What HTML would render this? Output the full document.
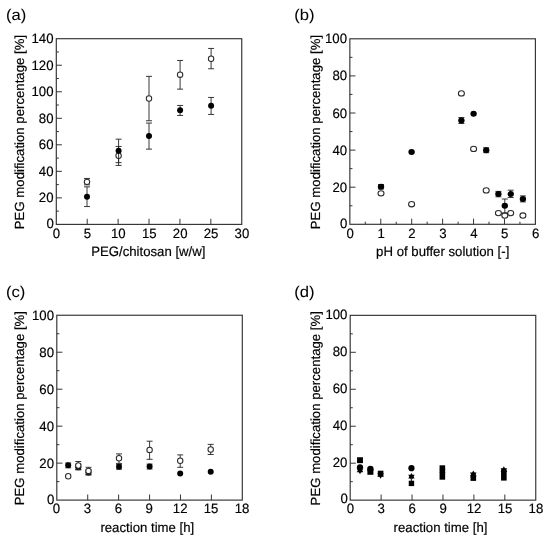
<!DOCTYPE html>
<html><head><meta charset="utf-8"><title>PEG modification percentage</title>
<style>
html,body{margin:0;padding:0;background:#fff;}
svg{display:block;font-family:"Liberation Sans",sans-serif;}
text{fill:#000;stroke:#000;stroke-width:0.18px;text-rendering:geometricPrecision;}
</style></head><body>
<svg width="550" height="539" viewBox="0 0 550 539">
<defs><filter id="soft" x="0" y="0" width="550" height="539" filterUnits="userSpaceOnUse"><feGaussianBlur stdDeviation="0.3"/></filter></defs>
<rect x="0" y="0" width="550" height="539" fill="#fff"/>
<g>
<rect x="56.3" y="38.7" width="185.45" height="185.7" fill="none" stroke="#333" stroke-width="1.15"/>
<line x1="87.21" y1="224.40" x2="87.21" y2="218.80" stroke="#2a2a2a" stroke-width="0.95"/>
<line x1="118.12" y1="224.40" x2="118.12" y2="218.80" stroke="#2a2a2a" stroke-width="0.95"/>
<line x1="149.02" y1="224.40" x2="149.02" y2="218.80" stroke="#2a2a2a" stroke-width="0.95"/>
<line x1="179.93" y1="224.40" x2="179.93" y2="218.80" stroke="#2a2a2a" stroke-width="0.95"/>
<line x1="210.84" y1="224.40" x2="210.84" y2="218.80" stroke="#2a2a2a" stroke-width="0.95"/>
<line x1="56.30" y1="197.87" x2="61.90" y2="197.87" stroke="#2a2a2a" stroke-width="0.95"/>
<line x1="56.30" y1="171.34" x2="61.90" y2="171.34" stroke="#2a2a2a" stroke-width="0.95"/>
<line x1="56.30" y1="144.81" x2="61.90" y2="144.81" stroke="#2a2a2a" stroke-width="0.95"/>
<line x1="56.30" y1="118.29" x2="61.90" y2="118.29" stroke="#2a2a2a" stroke-width="0.95"/>
<line x1="56.30" y1="91.76" x2="61.90" y2="91.76" stroke="#2a2a2a" stroke-width="0.95"/>
<line x1="56.30" y1="65.23" x2="61.90" y2="65.23" stroke="#2a2a2a" stroke-width="0.95"/>
<line x1="56.30" y1="211.14" x2="58.90" y2="211.14" stroke="#2a2a2a" stroke-width="0.95"/>
<line x1="56.30" y1="184.61" x2="58.90" y2="184.61" stroke="#2a2a2a" stroke-width="0.95"/>
<line x1="56.30" y1="158.08" x2="58.90" y2="158.08" stroke="#2a2a2a" stroke-width="0.95"/>
<line x1="56.30" y1="131.55" x2="58.90" y2="131.55" stroke="#2a2a2a" stroke-width="0.95"/>
<line x1="56.30" y1="105.02" x2="58.90" y2="105.02" stroke="#2a2a2a" stroke-width="0.95"/>
<line x1="56.30" y1="78.49" x2="58.90" y2="78.49" stroke="#2a2a2a" stroke-width="0.95"/>
<line x1="56.30" y1="51.96" x2="58.90" y2="51.96" stroke="#2a2a2a" stroke-width="0.95"/>
<g transform="translate(0.2,0.45)">
<line x1="86.80" y1="178.00" x2="86.80" y2="184.40" stroke="#222" stroke-width="0.9"/>
<line x1="83.80" y1="178.00" x2="89.80" y2="178.00" stroke="#222" stroke-width="0.9"/>
<line x1="83.80" y1="184.40" x2="89.80" y2="184.40" stroke="#222" stroke-width="0.9"/>
<line x1="118.40" y1="146.00" x2="118.40" y2="165.00" stroke="#222" stroke-width="0.9"/>
<line x1="115.40" y1="146.00" x2="121.40" y2="146.00" stroke="#222" stroke-width="0.9"/>
<line x1="115.40" y1="165.00" x2="121.40" y2="165.00" stroke="#222" stroke-width="0.9"/>
<line x1="148.80" y1="75.90" x2="148.80" y2="120.30" stroke="#222" stroke-width="0.9"/>
<line x1="145.80" y1="75.90" x2="151.80" y2="75.90" stroke="#222" stroke-width="0.9"/>
<line x1="145.80" y1="120.30" x2="151.80" y2="120.30" stroke="#222" stroke-width="0.9"/>
<line x1="179.90" y1="60.00" x2="179.90" y2="88.70" stroke="#222" stroke-width="0.9"/>
<line x1="176.90" y1="60.00" x2="182.90" y2="60.00" stroke="#222" stroke-width="0.9"/>
<line x1="176.90" y1="88.70" x2="182.90" y2="88.70" stroke="#222" stroke-width="0.9"/>
<line x1="210.90" y1="48.00" x2="210.90" y2="68.30" stroke="#222" stroke-width="0.9"/>
<line x1="207.90" y1="48.00" x2="213.90" y2="48.00" stroke="#222" stroke-width="0.9"/>
<line x1="207.90" y1="68.30" x2="213.90" y2="68.30" stroke="#222" stroke-width="0.9"/>
<circle cx="86.80" cy="181.40" r="2.7" fill="#fff" stroke="#2a2a2a" stroke-width="1.05"/>
<circle cx="118.40" cy="155.30" r="2.7" fill="#fff" stroke="#2a2a2a" stroke-width="1.05"/>
<circle cx="148.80" cy="98.00" r="2.7" fill="#fff" stroke="#2a2a2a" stroke-width="1.05"/>
<circle cx="179.90" cy="74.20" r="2.7" fill="#fff" stroke="#2a2a2a" stroke-width="1.05"/>
<circle cx="210.90" cy="58.30" r="2.7" fill="#fff" stroke="#2a2a2a" stroke-width="1.05"/>
<line x1="86.80" y1="186.40" x2="86.80" y2="206.10" stroke="#222" stroke-width="0.9"/>
<line x1="83.80" y1="186.40" x2="89.80" y2="186.40" stroke="#222" stroke-width="0.9"/>
<line x1="83.80" y1="206.10" x2="89.80" y2="206.10" stroke="#222" stroke-width="0.9"/>
<line x1="118.40" y1="138.70" x2="118.40" y2="162.20" stroke="#222" stroke-width="0.9"/>
<line x1="115.40" y1="138.70" x2="121.40" y2="138.70" stroke="#222" stroke-width="0.9"/>
<line x1="115.40" y1="162.20" x2="121.40" y2="162.20" stroke="#222" stroke-width="0.9"/>
<line x1="148.80" y1="122.60" x2="148.80" y2="148.70" stroke="#222" stroke-width="0.9"/>
<line x1="145.80" y1="122.60" x2="151.80" y2="122.60" stroke="#222" stroke-width="0.9"/>
<line x1="145.80" y1="148.70" x2="151.80" y2="148.70" stroke="#222" stroke-width="0.9"/>
<line x1="179.90" y1="105.00" x2="179.90" y2="115.00" stroke="#222" stroke-width="0.9"/>
<line x1="176.90" y1="105.00" x2="182.90" y2="105.00" stroke="#222" stroke-width="0.9"/>
<line x1="176.90" y1="115.00" x2="182.90" y2="115.00" stroke="#222" stroke-width="0.9"/>
<line x1="210.90" y1="97.00" x2="210.90" y2="114.00" stroke="#222" stroke-width="0.9"/>
<line x1="207.90" y1="97.00" x2="213.90" y2="97.00" stroke="#222" stroke-width="0.9"/>
<line x1="207.90" y1="114.00" x2="213.90" y2="114.00" stroke="#222" stroke-width="0.9"/>
<circle cx="86.80" cy="196.40" r="3.0" fill="#000"/>
<circle cx="118.40" cy="150.40" r="3.0" fill="#000"/>
<circle cx="148.80" cy="135.60" r="3.0" fill="#000"/>
<circle cx="179.90" cy="109.80" r="3.0" fill="#000"/>
<circle cx="210.90" cy="105.30" r="3.0" fill="#000"/>
</g>
<rect x="349.85" y="38.8" width="185.54999999999995" height="185.5" fill="none" stroke="#333" stroke-width="1.15"/>
<line x1="380.78" y1="224.30" x2="380.78" y2="218.70" stroke="#2a2a2a" stroke-width="0.95"/>
<line x1="411.70" y1="224.30" x2="411.70" y2="218.70" stroke="#2a2a2a" stroke-width="0.95"/>
<line x1="442.62" y1="224.30" x2="442.62" y2="218.70" stroke="#2a2a2a" stroke-width="0.95"/>
<line x1="473.55" y1="224.30" x2="473.55" y2="218.70" stroke="#2a2a2a" stroke-width="0.95"/>
<line x1="504.48" y1="224.30" x2="504.48" y2="218.70" stroke="#2a2a2a" stroke-width="0.95"/>
<line x1="365.31" y1="224.30" x2="365.31" y2="221.70" stroke="#2a2a2a" stroke-width="0.95"/>
<line x1="396.24" y1="224.30" x2="396.24" y2="221.70" stroke="#2a2a2a" stroke-width="0.95"/>
<line x1="427.16" y1="224.30" x2="427.16" y2="221.70" stroke="#2a2a2a" stroke-width="0.95"/>
<line x1="458.09" y1="224.30" x2="458.09" y2="221.70" stroke="#2a2a2a" stroke-width="0.95"/>
<line x1="489.01" y1="224.30" x2="489.01" y2="221.70" stroke="#2a2a2a" stroke-width="0.95"/>
<line x1="519.94" y1="224.30" x2="519.94" y2="221.70" stroke="#2a2a2a" stroke-width="0.95"/>
<line x1="349.85" y1="187.20" x2="355.45" y2="187.20" stroke="#2a2a2a" stroke-width="0.95"/>
<line x1="349.85" y1="150.10" x2="355.45" y2="150.10" stroke="#2a2a2a" stroke-width="0.95"/>
<line x1="349.85" y1="113.00" x2="355.45" y2="113.00" stroke="#2a2a2a" stroke-width="0.95"/>
<line x1="349.85" y1="75.90" x2="355.45" y2="75.90" stroke="#2a2a2a" stroke-width="0.95"/>
<line x1="349.85" y1="205.75" x2="352.45" y2="205.75" stroke="#2a2a2a" stroke-width="0.95"/>
<line x1="349.85" y1="168.65" x2="352.45" y2="168.65" stroke="#2a2a2a" stroke-width="0.95"/>
<line x1="349.85" y1="131.55" x2="352.45" y2="131.55" stroke="#2a2a2a" stroke-width="0.95"/>
<line x1="349.85" y1="94.45" x2="352.45" y2="94.45" stroke="#2a2a2a" stroke-width="0.95"/>
<line x1="349.85" y1="57.35" x2="352.45" y2="57.35" stroke="#2a2a2a" stroke-width="0.95"/>
<line x1="381.00" y1="184.50" x2="381.00" y2="189.00" stroke="#222" stroke-width="0.9"/>
<line x1="378.00" y1="184.50" x2="384.00" y2="184.50" stroke="#222" stroke-width="0.9"/>
<line x1="378.00" y1="189.00" x2="384.00" y2="189.00" stroke="#222" stroke-width="0.9"/>
<line x1="461.40" y1="117.50" x2="461.40" y2="123.50" stroke="#222" stroke-width="0.9"/>
<line x1="458.40" y1="117.50" x2="464.40" y2="117.50" stroke="#222" stroke-width="0.9"/>
<line x1="458.40" y1="123.50" x2="464.40" y2="123.50" stroke="#222" stroke-width="0.9"/>
<line x1="486.20" y1="147.70" x2="486.20" y2="152.70" stroke="#222" stroke-width="0.9"/>
<line x1="483.20" y1="147.70" x2="489.20" y2="147.70" stroke="#222" stroke-width="0.9"/>
<line x1="483.20" y1="152.70" x2="489.20" y2="152.70" stroke="#222" stroke-width="0.9"/>
<line x1="498.40" y1="191.40" x2="498.40" y2="196.80" stroke="#222" stroke-width="0.9"/>
<line x1="495.40" y1="191.40" x2="501.40" y2="191.40" stroke="#222" stroke-width="0.9"/>
<line x1="495.40" y1="196.80" x2="501.40" y2="196.80" stroke="#222" stroke-width="0.9"/>
<line x1="510.70" y1="190.20" x2="510.70" y2="197.50" stroke="#222" stroke-width="0.9"/>
<line x1="507.70" y1="190.20" x2="513.70" y2="190.20" stroke="#222" stroke-width="0.9"/>
<line x1="507.70" y1="197.50" x2="513.70" y2="197.50" stroke="#222" stroke-width="0.9"/>
<line x1="522.90" y1="195.90" x2="522.90" y2="201.90" stroke="#222" stroke-width="0.9"/>
<line x1="519.90" y1="195.90" x2="525.90" y2="195.90" stroke="#222" stroke-width="0.9"/>
<line x1="519.90" y1="201.90" x2="525.90" y2="201.90" stroke="#222" stroke-width="0.9"/>
<line x1="504.80" y1="199.00" x2="504.80" y2="213.00" stroke="#222" stroke-width="0.9"/>
<line x1="501.80" y1="199.00" x2="507.80" y2="199.00" stroke="#222" stroke-width="0.9"/>
<line x1="501.80" y1="213.00" x2="507.80" y2="213.00" stroke="#222" stroke-width="0.9"/>
<ellipse cx="381.00" cy="193.30" rx="3.0" ry="2.65" fill="#fff" stroke="#2a2a2a" stroke-width="1.05"/>
<ellipse cx="411.60" cy="204.20" rx="3.0" ry="2.65" fill="#fff" stroke="#2a2a2a" stroke-width="1.05"/>
<ellipse cx="461.40" cy="93.40" rx="3.0" ry="2.65" fill="#fff" stroke="#2a2a2a" stroke-width="1.05"/>
<ellipse cx="473.60" cy="148.90" rx="3.0" ry="2.65" fill="#fff" stroke="#2a2a2a" stroke-width="1.05"/>
<ellipse cx="486.20" cy="190.40" rx="3.0" ry="2.65" fill="#fff" stroke="#2a2a2a" stroke-width="1.05"/>
<ellipse cx="498.40" cy="213.10" rx="3.0" ry="2.65" fill="#fff" stroke="#2a2a2a" stroke-width="1.05"/>
<ellipse cx="510.70" cy="213.10" rx="3.0" ry="2.65" fill="#fff" stroke="#2a2a2a" stroke-width="1.05"/>
<ellipse cx="522.90" cy="215.50" rx="3.0" ry="2.65" fill="#fff" stroke="#2a2a2a" stroke-width="1.05"/>
<ellipse cx="504.8" cy="215.5" rx="3.0" ry="2.65" fill="none" stroke="#2a2a2a" stroke-width="1.05"/>
<ellipse cx="381.00" cy="186.70" rx="3.2" ry="3.0" fill="#000"/>
<ellipse cx="411.60" cy="152.00" rx="3.2" ry="3.0" fill="#000"/>
<ellipse cx="461.40" cy="120.50" rx="3.2" ry="3.0" fill="#000"/>
<ellipse cx="473.60" cy="113.80" rx="3.2" ry="3.0" fill="#000"/>
<ellipse cx="486.20" cy="150.20" rx="3.2" ry="3.0" fill="#000"/>
<ellipse cx="498.40" cy="194.10" rx="3.2" ry="3.0" fill="#000"/>
<ellipse cx="510.70" cy="194.10" rx="3.2" ry="3.0" fill="#000"/>
<ellipse cx="522.90" cy="198.90" rx="3.2" ry="3.0" fill="#000"/>
<ellipse cx="504.80" cy="205.70" rx="3.2" ry="3.0" fill="#000"/>
<rect x="56.8" y="315.25" width="185.5" height="184.85000000000002" fill="none" stroke="#333" stroke-width="1.15"/>
<line x1="87.72" y1="500.10" x2="87.72" y2="494.50" stroke="#2a2a2a" stroke-width="0.95"/>
<line x1="118.63" y1="500.10" x2="118.63" y2="494.50" stroke="#2a2a2a" stroke-width="0.95"/>
<line x1="149.55" y1="500.10" x2="149.55" y2="494.50" stroke="#2a2a2a" stroke-width="0.95"/>
<line x1="180.47" y1="500.10" x2="180.47" y2="494.50" stroke="#2a2a2a" stroke-width="0.95"/>
<line x1="211.38" y1="500.10" x2="211.38" y2="494.50" stroke="#2a2a2a" stroke-width="0.95"/>
<line x1="56.80" y1="463.13" x2="62.40" y2="463.13" stroke="#2a2a2a" stroke-width="0.95"/>
<line x1="56.80" y1="426.16" x2="62.40" y2="426.16" stroke="#2a2a2a" stroke-width="0.95"/>
<line x1="56.80" y1="389.19" x2="62.40" y2="389.19" stroke="#2a2a2a" stroke-width="0.95"/>
<line x1="56.80" y1="352.22" x2="62.40" y2="352.22" stroke="#2a2a2a" stroke-width="0.95"/>
<line x1="56.80" y1="481.62" x2="59.40" y2="481.62" stroke="#2a2a2a" stroke-width="0.95"/>
<line x1="56.80" y1="444.65" x2="59.40" y2="444.65" stroke="#2a2a2a" stroke-width="0.95"/>
<line x1="56.80" y1="407.68" x2="59.40" y2="407.68" stroke="#2a2a2a" stroke-width="0.95"/>
<line x1="56.80" y1="370.70" x2="59.40" y2="370.70" stroke="#2a2a2a" stroke-width="0.95"/>
<line x1="56.80" y1="333.74" x2="59.40" y2="333.74" stroke="#2a2a2a" stroke-width="0.95"/>
<line x1="68.20" y1="463.00" x2="68.20" y2="467.80" stroke="#222" stroke-width="0.9"/>
<line x1="65.20" y1="463.00" x2="71.20" y2="463.00" stroke="#222" stroke-width="0.9"/>
<line x1="65.20" y1="467.80" x2="71.20" y2="467.80" stroke="#222" stroke-width="0.9"/>
<line x1="78.30" y1="464.90" x2="78.30" y2="469.80" stroke="#222" stroke-width="0.9"/>
<line x1="75.30" y1="464.90" x2="81.30" y2="464.90" stroke="#222" stroke-width="0.9"/>
<line x1="75.30" y1="469.80" x2="81.30" y2="469.80" stroke="#222" stroke-width="0.9"/>
<line x1="88.50" y1="470.00" x2="88.50" y2="475.00" stroke="#222" stroke-width="0.9"/>
<line x1="85.50" y1="470.00" x2="91.50" y2="470.00" stroke="#222" stroke-width="0.9"/>
<line x1="85.50" y1="475.00" x2="91.50" y2="475.00" stroke="#222" stroke-width="0.9"/>
<line x1="119.00" y1="464.30" x2="119.00" y2="469.20" stroke="#222" stroke-width="0.9"/>
<line x1="116.00" y1="464.30" x2="122.00" y2="464.30" stroke="#222" stroke-width="0.9"/>
<line x1="116.00" y1="469.20" x2="122.00" y2="469.20" stroke="#222" stroke-width="0.9"/>
<line x1="149.60" y1="464.10" x2="149.60" y2="469.00" stroke="#222" stroke-width="0.9"/>
<line x1="146.60" y1="464.10" x2="152.60" y2="464.10" stroke="#222" stroke-width="0.9"/>
<line x1="146.60" y1="469.00" x2="152.60" y2="469.00" stroke="#222" stroke-width="0.9"/>
<circle cx="68.20" cy="465.30" r="3.0" fill="#000"/>
<circle cx="78.30" cy="467.30" r="3.0" fill="#000"/>
<circle cx="88.50" cy="472.50" r="3.0" fill="#000"/>
<circle cx="119.00" cy="466.70" r="3.0" fill="#000"/>
<circle cx="149.60" cy="466.50" r="3.0" fill="#000"/>
<circle cx="180.20" cy="473.50" r="3.0" fill="#000"/>
<circle cx="210.70" cy="471.70" r="3.0" fill="#000"/>
<line x1="78.30" y1="461.50" x2="78.30" y2="469.60" stroke="#222" stroke-width="0.9"/>
<line x1="75.30" y1="461.50" x2="81.30" y2="461.50" stroke="#222" stroke-width="0.9"/>
<line x1="75.30" y1="469.60" x2="81.30" y2="469.60" stroke="#222" stroke-width="0.9"/>
<line x1="88.50" y1="467.30" x2="88.50" y2="474.60" stroke="#222" stroke-width="0.9"/>
<line x1="85.50" y1="467.30" x2="91.50" y2="467.30" stroke="#222" stroke-width="0.9"/>
<line x1="85.50" y1="474.60" x2="91.50" y2="474.60" stroke="#222" stroke-width="0.9"/>
<line x1="119.00" y1="453.90" x2="119.00" y2="463.40" stroke="#222" stroke-width="0.9"/>
<line x1="116.00" y1="453.90" x2="122.00" y2="453.90" stroke="#222" stroke-width="0.9"/>
<line x1="116.00" y1="463.40" x2="122.00" y2="463.40" stroke="#222" stroke-width="0.9"/>
<line x1="149.60" y1="441.20" x2="149.60" y2="459.30" stroke="#222" stroke-width="0.9"/>
<line x1="146.60" y1="441.20" x2="152.60" y2="441.20" stroke="#222" stroke-width="0.9"/>
<line x1="146.60" y1="459.30" x2="152.60" y2="459.30" stroke="#222" stroke-width="0.9"/>
<line x1="180.20" y1="454.90" x2="180.20" y2="467.30" stroke="#222" stroke-width="0.9"/>
<line x1="177.20" y1="454.90" x2="183.20" y2="454.90" stroke="#222" stroke-width="0.9"/>
<line x1="177.20" y1="467.30" x2="183.20" y2="467.30" stroke="#222" stroke-width="0.9"/>
<line x1="210.70" y1="444.40" x2="210.70" y2="454.50" stroke="#222" stroke-width="0.9"/>
<line x1="207.70" y1="444.40" x2="213.70" y2="444.40" stroke="#222" stroke-width="0.9"/>
<line x1="207.70" y1="454.50" x2="213.70" y2="454.50" stroke="#222" stroke-width="0.9"/>
<circle cx="68.20" cy="476.20" r="2.7" fill="#fff" stroke="#2a2a2a" stroke-width="1.05"/>
<circle cx="78.30" cy="465.50" r="2.7" fill="#fff" stroke="#2a2a2a" stroke-width="1.05"/>
<circle cx="88.50" cy="470.90" r="2.7" fill="#fff" stroke="#2a2a2a" stroke-width="1.05"/>
<circle cx="119.00" cy="458.30" r="2.7" fill="#fff" stroke="#2a2a2a" stroke-width="1.05"/>
<circle cx="149.60" cy="449.90" r="2.7" fill="#fff" stroke="#2a2a2a" stroke-width="1.05"/>
<circle cx="180.20" cy="460.80" r="2.7" fill="#fff" stroke="#2a2a2a" stroke-width="1.05"/>
<circle cx="210.70" cy="449.50" r="2.7" fill="#fff" stroke="#2a2a2a" stroke-width="1.05"/>
<rect x="350.2" y="315.35" width="185.55" height="184.79999999999995" fill="none" stroke="#333" stroke-width="1.15"/>
<line x1="381.12" y1="500.15" x2="381.12" y2="494.55" stroke="#2a2a2a" stroke-width="0.95"/>
<line x1="412.05" y1="500.15" x2="412.05" y2="494.55" stroke="#2a2a2a" stroke-width="0.95"/>
<line x1="442.98" y1="500.15" x2="442.98" y2="494.55" stroke="#2a2a2a" stroke-width="0.95"/>
<line x1="473.90" y1="500.15" x2="473.90" y2="494.55" stroke="#2a2a2a" stroke-width="0.95"/>
<line x1="504.82" y1="500.15" x2="504.82" y2="494.55" stroke="#2a2a2a" stroke-width="0.95"/>
<line x1="350.20" y1="463.19" x2="355.80" y2="463.19" stroke="#2a2a2a" stroke-width="0.95"/>
<line x1="350.20" y1="426.23" x2="355.80" y2="426.23" stroke="#2a2a2a" stroke-width="0.95"/>
<line x1="350.20" y1="389.27" x2="355.80" y2="389.27" stroke="#2a2a2a" stroke-width="0.95"/>
<line x1="350.20" y1="352.31" x2="355.80" y2="352.31" stroke="#2a2a2a" stroke-width="0.95"/>
<line x1="350.20" y1="481.67" x2="352.80" y2="481.67" stroke="#2a2a2a" stroke-width="0.95"/>
<line x1="350.20" y1="444.71" x2="352.80" y2="444.71" stroke="#2a2a2a" stroke-width="0.95"/>
<line x1="350.20" y1="407.75" x2="352.80" y2="407.75" stroke="#2a2a2a" stroke-width="0.95"/>
<line x1="350.20" y1="370.79" x2="352.80" y2="370.79" stroke="#2a2a2a" stroke-width="0.95"/>
<line x1="350.20" y1="333.83" x2="352.80" y2="333.83" stroke="#2a2a2a" stroke-width="0.95"/>
<rect x="357.05" y="457.25" width="5.9" height="5.9" fill="#000"/>
<circle cx="360.00" cy="467.30" r="3.1" fill="#000"/>
<polygon points="360.00,466.60 363.29,472.30 356.71,472.30" fill="#000"/>
<polygon points="360.00,474.20 363.29,468.50 356.71,468.50" fill="#000"/>
<circle cx="370.40" cy="469.00" r="3.2" fill="#000"/>
<rect x="367.40" y="468.80" width="6.0" height="6.0" fill="#000"/>
<rect x="377.80" y="470.70" width="5.6" height="5.6" fill="#000"/>
<polygon points="380.60,471.30 383.80,476.85 377.40,476.85" fill="#000"/>
<polygon points="380.60,478.70 383.80,473.15 377.40,473.15" fill="#000"/>
<circle cx="411.45" cy="468.20" r="3.1" fill="#000"/>
<polygon points="411.45,473.00 414.65,478.55 408.25,478.55" fill="#000"/>
<polygon points="411.45,480.40 414.65,474.85 408.25,474.85" fill="#000"/>
<line x1="411.45" y1="478.00" x2="411.45" y2="481.50" stroke="#333" stroke-width="1.1"/>
<rect x="408.75" y="480.70" width="5.4" height="5.4" fill="#000"/>
<rect x="439.55" y="465.3" width="5.6" height="14.4" fill="#000"/>
<polygon points="442.50,467.80 445.44,472.90 439.56,472.90" fill="#000"/>
<polygon points="442.50,474.60 445.44,469.50 439.56,469.50" fill="#000"/>
<polygon points="473.30,470.60 476.59,476.30 470.01,476.30" fill="#000"/>
<polygon points="473.30,478.20 476.59,472.50 470.01,472.50" fill="#000"/>
<rect x="470.50" y="475.30" width="5.6" height="5.6" fill="#000"/>
<polygon points="503.85,466.30 507.14,472.00 500.56,472.00" fill="#000"/>
<polygon points="503.85,473.90 507.14,468.20 500.56,468.20" fill="#000"/>
<rect x="501.05" y="469.6" width="5.6" height="11.0" fill="#000"/>
</g>
<g filter="url(#soft)">
<text transform="translate(56.50,237.95) scale(1,1.025)" text-anchor="middle" font-size="13.2" >0</text>
<text transform="translate(87.41,237.95) scale(1,1.025)" text-anchor="middle" font-size="13.2" >5</text>
<text transform="translate(118.32,237.95) scale(1,1.025)" text-anchor="middle" font-size="13.2" >10</text>
<text transform="translate(149.22,237.95) scale(1,1.025)" text-anchor="middle" font-size="13.2" >15</text>
<text transform="translate(180.13,237.95) scale(1,1.025)" text-anchor="middle" font-size="13.2" >20</text>
<text transform="translate(211.04,237.95) scale(1,1.025)" text-anchor="middle" font-size="13.2" >25</text>
<text transform="translate(241.95,237.95) scale(1,1.025)" text-anchor="middle" font-size="13.2" >30</text>
<text transform="translate(53.90,227.70) scale(1,1.025)" text-anchor="end" font-size="13.2" >0</text>
<text transform="translate(53.50,202.17) scale(1,1.025)" text-anchor="end" font-size="13.2" >20</text>
<text transform="translate(53.50,175.64) scale(1,1.025)" text-anchor="end" font-size="13.2" >40</text>
<text transform="translate(53.50,149.11) scale(1,1.025)" text-anchor="end" font-size="13.2" >60</text>
<text transform="translate(53.50,122.59) scale(1,1.025)" text-anchor="end" font-size="13.2" >80</text>
<text transform="translate(53.50,96.06) scale(1,1.025)" text-anchor="end" font-size="13.2" >100</text>
<text transform="translate(53.50,69.53) scale(1,1.025)" text-anchor="end" font-size="13.2" >120</text>
<text transform="translate(53.50,43.00) scale(1,1.025)" text-anchor="end" font-size="13.2" >140</text>
<text transform="translate(148.30,256.00) scale(1,1.025)" text-anchor="middle" font-size="13.2" >PEG/chitosan [w/w]</text>
<text transform="translate(24.3,132.05) rotate(-90)" text-anchor="middle" font-size="13.2">PEG modification percentage [%]</text>
<text transform="translate(5.9,20.3) scale(1.08,1)" font-size="15.4" style="stroke-width:0.05px">(a)</text>
<text transform="translate(350.15,237.90) scale(1,1.025)" text-anchor="middle" font-size="13.2" >0</text>
<text transform="translate(381.08,237.90) scale(1,1.025)" text-anchor="middle" font-size="13.2" >1</text>
<text transform="translate(412.00,237.90) scale(1,1.025)" text-anchor="middle" font-size="13.2" >2</text>
<text transform="translate(442.93,237.90) scale(1,1.025)" text-anchor="middle" font-size="13.2" >3</text>
<text transform="translate(473.85,237.90) scale(1,1.025)" text-anchor="middle" font-size="13.2" >4</text>
<text transform="translate(504.78,237.90) scale(1,1.025)" text-anchor="middle" font-size="13.2" >5</text>
<text transform="translate(535.70,237.90) scale(1,1.025)" text-anchor="middle" font-size="13.2" >6</text>
<text transform="translate(347.45,227.80) scale(1,1.025)" text-anchor="end" font-size="13.2" >0</text>
<text transform="translate(347.05,191.70) scale(1,1.025)" text-anchor="end" font-size="13.2" >20</text>
<text transform="translate(347.05,154.60) scale(1,1.025)" text-anchor="end" font-size="13.2" >40</text>
<text transform="translate(347.05,117.50) scale(1,1.025)" text-anchor="end" font-size="13.2" >60</text>
<text transform="translate(347.05,80.40) scale(1,1.025)" text-anchor="end" font-size="13.2" >80</text>
<text transform="translate(347.05,43.30) scale(1,1.025)" text-anchor="end" font-size="13.2" >100</text>
<text transform="translate(442.70,256.00) scale(1,1.025)" text-anchor="middle" font-size="13.2" >pH of buffer solution [-]</text>
<text transform="translate(319.8,132.05) rotate(-90)" text-anchor="middle" font-size="13.2">PEG modification percentage [%]</text>
<text transform="translate(294.2,20.3) scale(1.08,1)" font-size="15.4" style="stroke-width:0.05px">(b)</text>
<text transform="translate(56.50,513.00) scale(1,1.025)" text-anchor="middle" font-size="13.2" >0</text>
<text transform="translate(87.42,513.00) scale(1,1.025)" text-anchor="middle" font-size="13.2" >3</text>
<text transform="translate(118.33,513.00) scale(1,1.025)" text-anchor="middle" font-size="13.2" >6</text>
<text transform="translate(149.25,513.00) scale(1,1.025)" text-anchor="middle" font-size="13.2" >9</text>
<text transform="translate(180.17,513.00) scale(1,1.025)" text-anchor="middle" font-size="13.2" >12</text>
<text transform="translate(211.08,513.00) scale(1,1.025)" text-anchor="middle" font-size="13.2" >15</text>
<text transform="translate(242.00,513.00) scale(1,1.025)" text-anchor="middle" font-size="13.2" >18</text>
<text transform="translate(54.40,503.60) scale(1,1.025)" text-anchor="end" font-size="13.2" >0</text>
<text transform="translate(54.00,467.63) scale(1,1.025)" text-anchor="end" font-size="13.2" >20</text>
<text transform="translate(54.00,430.66) scale(1,1.025)" text-anchor="end" font-size="13.2" >40</text>
<text transform="translate(54.00,393.69) scale(1,1.025)" text-anchor="end" font-size="13.2" >60</text>
<text transform="translate(54.00,356.72) scale(1,1.025)" text-anchor="end" font-size="13.2" >80</text>
<text transform="translate(54.00,319.75) scale(1,1.025)" text-anchor="end" font-size="13.2" >100</text>
<text transform="translate(147.30,532.00) scale(1,1.025)" text-anchor="middle" font-size="13.2" >reaction time [h]</text>
<text transform="translate(24.3,408.175) rotate(-90)" text-anchor="middle" font-size="13.2">PEG modification percentage [%]</text>
<text transform="translate(5.9,297.2) scale(1.08,1)" font-size="15.4" style="stroke-width:0.05px">(c)</text>
<text transform="translate(350.35,513.05) scale(1,1.025)" text-anchor="middle" font-size="13.2" >0</text>
<text transform="translate(381.27,513.05) scale(1,1.025)" text-anchor="middle" font-size="13.2" >3</text>
<text transform="translate(412.20,513.05) scale(1,1.025)" text-anchor="middle" font-size="13.2" >6</text>
<text transform="translate(443.12,513.05) scale(1,1.025)" text-anchor="middle" font-size="13.2" >9</text>
<text transform="translate(474.05,513.05) scale(1,1.025)" text-anchor="middle" font-size="13.2" >12</text>
<text transform="translate(504.97,513.05) scale(1,1.025)" text-anchor="middle" font-size="13.2" >15</text>
<text transform="translate(535.90,513.05) scale(1,1.025)" text-anchor="middle" font-size="13.2" >18</text>
<text transform="translate(347.80,503.25) scale(1,1.025)" text-anchor="end" font-size="13.2" >0</text>
<text transform="translate(347.40,467.29) scale(1,1.025)" text-anchor="end" font-size="13.2" >20</text>
<text transform="translate(347.40,430.33) scale(1,1.025)" text-anchor="end" font-size="13.2" >40</text>
<text transform="translate(347.40,393.37) scale(1,1.025)" text-anchor="end" font-size="13.2" >60</text>
<text transform="translate(347.40,356.41) scale(1,1.025)" text-anchor="end" font-size="13.2" >80</text>
<text transform="translate(347.40,319.45) scale(1,1.025)" text-anchor="end" font-size="13.2" >100</text>
<text transform="translate(440.50,532.00) scale(1,1.025)" text-anchor="middle" font-size="13.2" >reaction time [h]</text>
<text transform="translate(319.8,408.25) rotate(-90)" text-anchor="middle" font-size="13.2">PEG modification percentage [%]</text>
<text transform="translate(294.2,297.2) scale(1.08,1)" font-size="15.4" style="stroke-width:0.05px">(d)</text>
</g>
</svg>
</body></html>
